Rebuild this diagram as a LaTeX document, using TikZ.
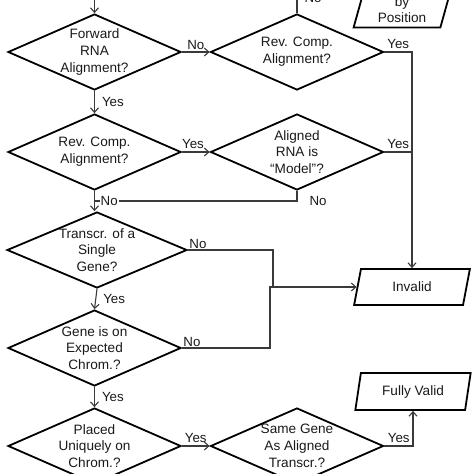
\documentclass[tikz,border=0pt]{standalone}
\usepackage{fontspec}
\setmainfont{Liberation Sans}
\usetikzlibrary{shapes.geometric,arrows.meta}
\definecolor{txt}{HTML}{1A1A1A}
\definecolor{lc}{HTML}{3A3A3A}
\tikzset{
  dec/.style={diamond, draw=black, line width=1.8pt, minimum width=173pt, minimum height=76pt,
    inner sep=-14pt, align=center, font=\fontsize{13.6}{16.7}\selectfont, text=txt,
    execute at begin node={\rule{0pt}{16pt}}},
  io/.style={trapezium, trapezium left angle=77, trapezium right angle=103, trapezium stretches=true,
    draw=black, line width=1.8pt, minimum width=116pt, minimum height=36pt, inner sep=1pt,
    align=center, font=\fontsize{13.6}{16.5}\selectfont, text=txt},
  conn/.style={draw=lc, line width=1.1pt},
  arr/.style={conn, -{Straight Barb[length=4.5pt,width=8pt]}},
  lab/.style={font=\fontsize{13.3}{16}\selectfont, inner sep=1pt, text=txt},
}
\begin{document}
\begin{tikzpicture}[x=1pt, y=-1pt]
\useasboundingbox (0,0) rectangle (474,474);
\fill[white] (0,0) rectangle (474,474);
\clip (0,0) rectangle (474,474);
% decisions
\node[dec] (d1) at (94.5,52) {Forward\\RNA\\Alignment?};
\node[dec] (d2) at (297,52) {Rev. Comp.\\Alignment?};
\node[dec] (d3) at (94.5,152) {Rev. Comp.\\Alignment?};
\node[dec] (d4) at (297,152) {Aligned\\RNA is\\“Model”?};
\node[dec, minimum width=180pt] (d5) at (97,250) {Transcr. of a\\Single\\Gene?};
\node[dec] (d6) at (94.5,348) {Gene is on\\Expected\\Chrom.?};
\node[dec] (d7) at (94.5,446) {Placed\\Uniquely on\\Chrom.?};
\node[dec] (d8) at (297,446) {Same Gene\\As Aligned\\Transcr.?};
% outputs
\node[io] (inv) at (412,287) {Invalid};
\node[io, minimum height=37pt] (fv) at (413,391.5) {Fully Valid};
\node[io, minimum width=97pt] (pos) at (402,9.5) {by\\Position};
% free ends
\coordinate (top1) at (94.5,-20);
\coordinate (top2) at (297,-20);
\coordinate (j3) at (94.5,201);
\coordinate (j5) at (273,250);
\coordinate (j6) at (270,348);
% connectors
\draw[arr] (top1) -- (d1.north);
\draw[conn] (d2.north) -- (top2) node[lab, pos=0.47, right=6pt] {No};
\draw[arr] (d1.east) -- (d2.west) node[lab, midway, above=1pt] {No};
\draw[arr] (d1.south) -- (d3.north) node[lab, midway, right=6pt] {Yes};
\draw[arr] (d2.east) -| (inv.north) node[lab, pos=0.25, above=2pt] {Yes};
\draw[conn] (d4.east) -- (d4.east -| inv.north) node[lab, midway, above=2pt] {Yes};
\draw[arr] (d3.east) -- (d4.west) node[lab, pos=0.4, above=2pt] {Yes};
\draw[conn] (d4.south) |- (j3) node[lab, pos=0.5, right=11pt] {No};
\draw[arr] (d3.south) -- (d3.south |- d5.north);
\node[lab, fill=white, anchor=west, xshift=5pt] at (j3) {No};
\draw[conn] (d5.east) -- (d5.east -| j5) node[lab, pos=0, anchor=south west] {No} -- (j5 |- inv.west);
\draw[arr] (d6.east) -- (d6.east -| j6) node[lab, pos=0, anchor=south west] {No} -- (j6 |- inv.west) -- (inv.west);
\draw[arr] (d5.south) -- (d6.north) node[lab, midway, right=6pt] {Yes};
\draw[arr] (d6.south) -- (d7.north) node[lab, midway, right=6pt] {Yes};
\draw[arr] (d7.east) -- (d8.west) node[lab, midway, above=2pt] {Yes};
\draw[arr] (d8.east) -| (fv.south) node[lab, pos=0.25, above=2pt] {Yes};
\end{tikzpicture}
\end{document}
